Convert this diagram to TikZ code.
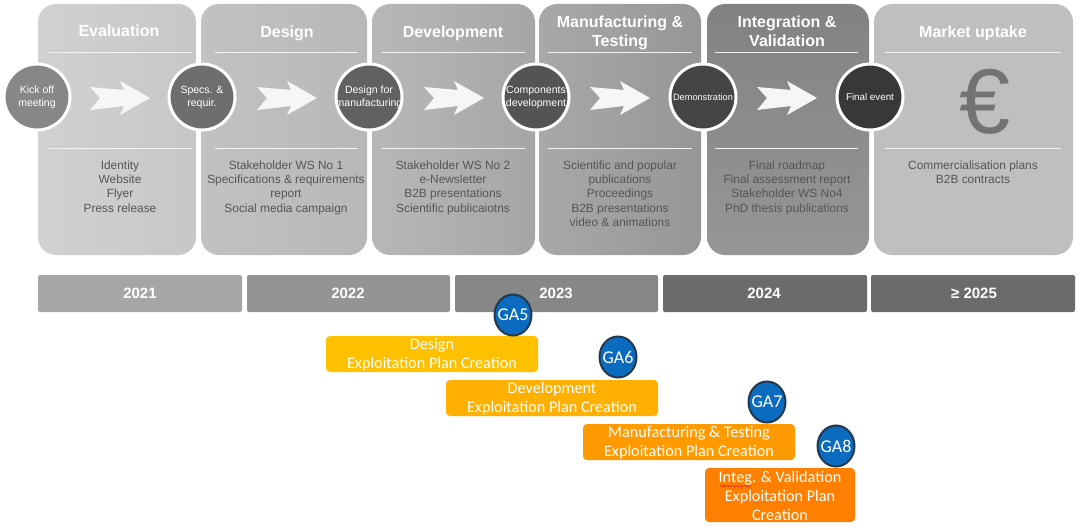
\documentclass[tikz,border=0pt]{standalone}
\usepackage{fontspec}
\setmainfont{Liberation Sans}
\newfontfamily\gafont{Carlito}
\usetikzlibrary{shapes.geometric, decorations.pathmorphing}
\definecolor{bodygrey}{HTML}{555555}
\definecolor{gablue}{HTML}{0B6BBE}
\definecolor{garim}{HTML}{24384F}
\definecolor{planA}{RGB}{255,192,0}
\definecolor{planB}{RGB}{255,176,0}
\definecolor{planC}{RGB}{255,154,0}
\definecolor{planD}{RGB}{255,128,0}
\tikzset{>=stealth,
    heading/.style={text=white, font=\fontsize{16}{19}\selectfont\bfseries, align=center},
    bodytext/.style={text=bodygrey, font=\fontsize{11.9}{14.3}\selectfont, align=center, anchor=north},
    sepline/.style={white!90!gray, line width=1pt},
    milestone/.style={circle, draw=white, line width=3pt, minimum size=66pt, inner sep=-8pt, text=white, font=\fontsize{10.5}{13}\selectfont, align=center},
    yearbar/.style={rounded corners=2pt},
    yeartext/.style={text=white, font=\fontsize{15}{18}\selectfont\bfseries},
    planbox/.style={rounded corners=4pt},
    plantext/.style={text=white, font=\gafont\fontsize{16.2}{18.8}\selectfont, align=center},
    gamark/.style={ellipse, fill=gablue, draw=garim, line width=2pt, minimum width=37pt, minimum height=41pt, inner xsep=-3pt, inner ysep=0pt, text=white, font=\gafont\fontsize{18}{20}\selectfont}
}

\begin{document}
\begin{tikzpicture}[x=1pt, y=-1pt]
    \useasboundingbox (0,0) rectangle (1084,532);
    % phase panels
    \shade[rounded corners=18pt, left color=black!18, right color=black!22] (38,4) rectangle (196,255);
    \shade[rounded corners=18pt, left color=black!24, right color=black!28] (201,4) rectangle (367,255);
    \shade[rounded corners=18pt, left color=black!28, right color=black!35] (372,4) rectangle (535,255);
    \shade[rounded corners=18pt, left color=black!34, right color=black!41] (539,4) rectangle (701,255);
    \shade[rounded corners=18pt, top color=black!49, bottom color=black!41] (707,4) rectangle (869,255);
    \fill[rounded corners=18pt, black!25] (874,4) rectangle (1073,255);
    % white lines
    \foreach \xa/\xb in {48/192, 215/358, 382/525, 548/692, 715/858, 885/1061} {
        \draw[sepline] (\xa,53) -- (\xb,53);
        \draw[sepline] (\xa,149) -- (\xb,149);
    }
    % arrows
    \foreach \x in {0,167,334,500,667}
    \fill[white!93!gray, shift={(\x,0)}] (90,87) -- (124,90) -- (120,81) -- (150,98) -- (120,115) -- (124,106) -- (90,110) -- (100,98) -- cycle;
    % headings
    \node[heading] (evaluation) at (119,31) {Evaluation};
    \node[heading] (design) at (287,33) {Design};
    \node[heading] (development) at (453,33) {Development};
    \node[heading] (manufacturing) at (620,33) {Manufacturing \&\\Testing};
    \node[heading] (integration) at (787,31) {Integration \&\\Validation};
    \node[heading] (market) at (973,33) {Market uptake};
    % lists
    \node[bodytext] (evaluationlist) at (120,157) {Identity\\Website\\Flyer\\Press release};
    \node[bodytext] (designlist) at (286,157) {Stakeholder WS No 1\\Specifications \& requirements\\report\\Social media campaign};
    \node[bodytext] (developmentlist) at (453,157) {Stakeholder WS No 2\\e-Newsletter\\B2B presentations\\Scientific publicaiotns};
    \node[bodytext] (manufacturinglist) at (620,157) {Scientific and popular\\publications\\Proceedings\\B2B presentations\\video \& animations};
    \node[bodytext] (integrationlist) at (787,157) {Final roadmap\\Final assessment report\\Stakeholder WS No4\\PhD thesis publications};
    \node[bodytext] (marketlist) at (973,157) {Commercialisation plans\\B2B contracts};
    \node[text=black!55, font=\fontsize{92}{96}\selectfont] (euro) at (985,102) {€};
    % milestones
    \node[milestone, fill=black!47] (kickoff) at (37,97) {Kick off\\meeting};
    \node[milestone, fill=black!57] (specs) at (202,97) {Specs. \&\\requir.};
    \node[milestone, fill=black!62] (dfm) at (369,97) {Design for\\manufacturing};
    \node[milestone, fill=black!67] (components) at (536,97) {Components\\development};
    \node[milestone, fill=black!73, font=\fontsize{9.2}{13}\selectfont] (demo) at (703,97) {Demonstration};
    \node[milestone, fill=black!78, font=\fontsize{9.8}{13}\selectfont] (final) at (870,97) {Final event};
    % years
    \fill[yearbar, black!35] (38,275) rectangle (242,312);
    \fill[yearbar, black!42] (247,275) rectangle (450,312);
    \fill[yearbar, black!47] (455,275) rectangle (658,312);
    \fill[yearbar, black!58] (663,275) rectangle (867,312);
    \fill[yearbar, black!58] (871,275) rectangle (1075,312);
    \node[yeartext] (y1) at (140,293) {2021};
    \node[yeartext] (y2) at (348,293) {2022};
    \node[yeartext] (y3) at (556,293) {2023};
    \node[yeartext] (y4) at (764,293) {2024};
    \node[yeartext] (y5) at (974,293) {≥ 2025};
    % exploitation plans
    \fill[planbox, planA] (326,336) rectangle (538,372);
    \fill[planbox, planB] (446,380) rectangle (658,416);
    \fill[planbox, planC] (583,424) rectangle (795,460);
    \fill[planbox, planD] (705,468) rectangle (855,522);
    \node[plantext] (p1) at (432,355) {Design\\Exploitation Plan Creation};
    \node[plantext] (p2) at (552,399) {Development\\Exploitation Plan Creation};
    \node[plantext] (p3) at (689,443) {Manufacturing \& Testing\\Exploitation Plan Creation};
    \node[plantext] (p4) at (780,496) {Integ. \& Validation\\Exploitation Plan\\Creation};
    \draw[red, line width=0.4pt, decorate, decoration={snake, amplitude=0.6pt, segment length=3pt}] (720,486) -- (751,486);
    % GA marks
    \node[gamark] (ga5) at (513,315) {GA5};
    \node[gamark] (ga6) at (618,357) {GA6};
    \node[gamark] (ga7) at (767,402) {GA7};
    \node[gamark] (ga8) at (836,446) {GA8};
\end{tikzpicture}
\end{document}
